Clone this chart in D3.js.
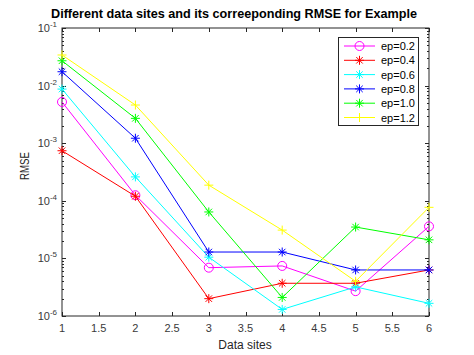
<!DOCTYPE html>
<html><head><meta charset="utf-8">
<script src="https://cdn.jsdelivr.net/npm/d3@7"></script>
<style>body{margin:0;background:#fff}svg{display:block;font-family:"Liberation Sans",Arial,sans-serif}</style>
</head><body>
<script>
const xs = [1, 2, 3, 4, 5, 6];
const labels = ["ep=0.2", "ep=0.4", "ep=0.6", "ep=0.8", "ep=1.0", "ep=1.2"];
const colors = ["#ff00ff", "#ff0000", "#00ffff", "#0000ff", "#00ff00", "#ffff00"];
const markers = ["o", "*", "*", "*", "*", "+"];
const ep02 = [0.0052, 1.25e-4, 6.9e-6, 7.4e-6, 2.7e-6, 3.6e-5];
const ep04 = [7.4e-4, 1.2e-4, 2.0e-6, 3.7e-6, 3.7e-6, 6.3e-6];
const ep06 = [0.0087, 2.6e-4, 1.05e-5, 1.3e-6, 3.2e-6, 1.66e-6];
const ep08 = [0.0174, 0.00122, 1.29e-5, 1.29e-5, 6.3e-6, 6.3e-6];
const ep10 = [0.027, 0.0027, 6.4e-5, 2.1e-6, 3.5e-5, 2.1e-5];
const ep12 = [0.034, 0.0046, 1.87e-4, 3.1e-5, 4.0e-6, 7.7e-5];
const series = [ep02, ep04, ep06, ep08, ep10, ep12];
const xTicks = [1, 1.5, 2, 2.5, 3, 3.5, 4, 4.5, 5, 5.5, 6];
const yTicks = [1e-6, 1e-5, 1e-4, 1e-3, 1e-2, 1e-1];

const W = 474, H = 355;
const L = 62, R = 429, T = 28, B = 316;
const svg = d3.select("body").append("svg").attr("width", W).attr("height", H);
const x = d3.scaleLinear().domain([1, 6]).range([L, R]);
const y = d3.scaleLog().domain([1e-6, 1e-1]).range([B, T]);

const tc = "#262626";
svg.append("rect").attr("x", L).attr("y", T).attr("width", R - L).attr("height", B - T)
  .attr("fill", "#fff").attr("stroke", tc).attr("stroke-width", 1);

const g = svg.append("g").attr("stroke", tc).attr("stroke-width", 1);
xTicks.forEach(t => {
  const px = Math.round(x(t)) + 0.5;
  g.append("line").attr("x1", px).attr("x2", px).attr("y1", B).attr("y2", B - 4);
  g.append("line").attr("x1", px).attr("x2", px).attr("y1", T).attr("y2", T + 4);
  svg.append("text").attr("x", x(t)).attr("y", B + 16).attr("text-anchor", "middle")
    .attr("font-size", 11).attr("fill", "#3a3a3a").text(d3.format("")(t));
});
for (let e = -6; e <= -1; e++) {
  for (let m = 1; m <= 9; m++) {
    const v = m * Math.pow(10, e);
    if (v > 0.1 + 1e-12) continue;
    const py = Math.round(y(v)) + 0.5;
    const len = m === 1 ? 4 : 2;
    g.append("line").attr("x1", L).attr("x2", L + len).attr("y1", py).attr("y2", py);
    g.append("line").attr("x1", R).attr("x2", R - len).attr("y1", py).attr("y2", py);
  }
}
yTicks.forEach(t => {
  const e = Math.round(Math.log10(t));
  const tx = svg.append("text").attr("x", L - 5).attr("y", y(t) + 4).attr("text-anchor", "end")
    .attr("font-size", 11).attr("fill", "#3a3a3a");
  tx.append("tspan").text("10");
  tx.append("tspan").attr("dy", -5).attr("font-size", 8).text(String(e));
});

svg.append("text").attr("x", 234).attr("y", 18).attr("text-anchor", "middle")
  .attr("font-size", 12.5).attr("font-weight", "bold").attr("fill", "#000")
  .attr("textLength", 366).attr("lengthAdjust", "spacingAndGlyphs")
  .text("Different data sites and its correeponding RMSE for Example");
svg.append("text").attr("x", 245).attr("y", 349).attr("text-anchor", "middle")
  .attr("font-size", 12).attr("fill", tc).text("Data sites");
svg.append("text").attr("transform", `translate(29,166) rotate(-90)`).attr("text-anchor", "middle")
  .attr("font-size", 12).attr("fill", tc).attr("textLength", 28).attr("lengthAdjust", "spacingAndGlyphs").text("RMSE");

function marker(sel, type, cx, cy, color) {
  const s = 4.5;
  if (type === "o") {
    sel.append("circle").attr("cx", cx).attr("cy", cy).attr("r", 4.5).attr("fill", "none").attr("stroke", color);
  } else {
    sel.append("line").attr("x1", cx - s).attr("x2", cx + s).attr("y1", cy).attr("y2", cy).attr("stroke", color);
    sel.append("line").attr("x1", cx).attr("x2", cx).attr("y1", cy - s).attr("y2", cy + s).attr("stroke", color);
    if (type === "*") {
      const d = s * 0.72;
      sel.append("line").attr("x1", cx - d).attr("x2", cx + d).attr("y1", cy - d).attr("y2", cy + d).attr("stroke", color);
      sel.append("line").attr("x1", cx - d).attr("x2", cx + d).attr("y1", cy + d).attr("y2", cy - d).attr("stroke", color);
    }
  }
}

const line = d3.line().x((d, i) => x(xs[i])).y(d => y(d));
series.forEach((s, k) => {
  const gg = svg.append("g");
  gg.append("path").attr("d", line(s)).attr("fill", "none").attr("stroke", colors[k]).attr("stroke-width", 1);
  s.forEach((v, i) => marker(gg, markers[k], x(xs[i]), y(v), colors[k]));
});

const lg = svg.append("g");
lg.append("rect").attr("x", 338.5).attr("y", 37.5).attr("width", 80).attr("height", 88)
  .attr("fill", "#fff").attr("stroke", tc);
labels.forEach((lab, k) => {
  const ly = 46 + k * 14.3;
  lg.append("line").attr("x1", 344).attr("x2", 375).attr("y1", ly).attr("y2", ly).attr("stroke", colors[k]);
  marker(lg, markers[k], 359.5, ly, colors[k]);
  lg.append("text").attr("x", 381).attr("y", ly + 4).attr("font-size", 11).attr("fill", "#000").text(lab);
});
</script>
</body></html>
